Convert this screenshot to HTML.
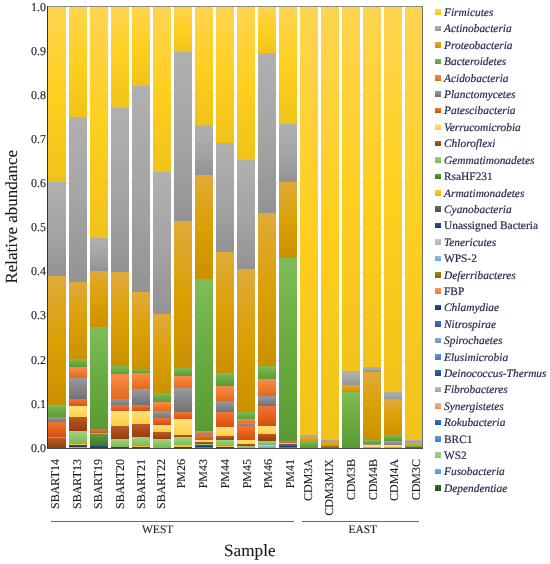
<!DOCTYPE html>
<html><head><meta charset="utf-8"><title>Relative abundance</title>
<style>
html,body{margin:0;padding:0;background:#fff;}
body{width:550px;height:564px;position:relative;overflow:hidden;font-family:"Liberation Serif",serif;color:#1e1e1e;-webkit-font-smoothing:antialiased;text-rendering:geometricPrecision;}
#t{position:absolute;left:0;top:0;width:550px;height:564px;will-change:transform;-webkit-text-stroke:0.12px currentColor;}
.a{position:absolute;}
.s{position:absolute;}
.gl{position:absolute;left:47.8px;width:374.5px;height:1px;background:#ececf0;}
.yl{position:absolute;left:0;width:46px;text-align:right;font-size:12px;line-height:13px;color:#222;}
.xl{position:absolute;writing-mode:vertical-rl;transform:rotate(180deg);font-size:12px;line-height:14px;white-space:nowrap;color:#1e1e1e;}
.lg{position:absolute;left:435.3px;width:5.6px;height:5.6px;}
.lt{position:absolute;left:444px;font-size:11.4px;line-height:14px;white-space:nowrap;color:#232a4c;-webkit-text-stroke:0.2px #232a4c;}
.lt i{font-style:italic;}
</style></head><body>

<div class="gl" style="top:404.03px"></div>
<div class="gl" style="top:359.87px"></div>
<div class="gl" style="top:315.7px"></div>
<div class="gl" style="top:271.53px"></div>
<div class="gl" style="top:227.37px"></div>
<div class="gl" style="top:183.2px"></div>
<div class="gl" style="top:139.03px"></div>
<div class="gl" style="top:94.86px"></div>
<div class="gl" style="top:50.7px"></div>
<div class="s" style="left:47.7px;top:7px;width:18px;height:176px;background:linear-gradient(to bottom,#ffd550 0%,#ffcf20 50%,#f0c31a 100%)"></div>
<div class="s" style="left:47.7px;top:182.4px;width:18px;height:94.5px;background:linear-gradient(to bottom,#b0b0b0 0%,#a5a5a5 50%,#939393 100%)"></div>
<div class="s" style="left:47.7px;top:276.3px;width:18px;height:129.1px;background:linear-gradient(to bottom,#e0aa3a 0%,#dba004 50%,#cb9000 100%)"></div>
<div class="s" style="left:47.7px;top:404.8px;width:18px;height:12.8px;background:linear-gradient(to bottom,#7fbd58 0%,#6aab40 50%,#5a9a34 100%)"></div>
<div class="s" style="left:47.7px;top:417px;width:18px;height:5.7px;background:linear-gradient(to bottom,#9a9a9e 0%,#86868a 50%,#727276 100%)"></div>
<div class="s" style="left:47.7px;top:422.1px;width:18px;height:15.4px;background:linear-gradient(to bottom,#f07636 0%,#e4601c 50%,#d2500e 100%)"></div>
<div class="s" style="left:47.7px;top:436.9px;width:18px;height:1.7px;background:linear-gradient(to bottom,#cf9070 0%,#c4805c 50%,#b87050 100%)"></div>
<div class="s" style="left:47.7px;top:438px;width:18px;height:10px;background:linear-gradient(to bottom,#b85c2c 0%,#a84a14 50%,#963e0c 100%)"></div>
<div class="s" style="left:68.73px;top:7px;width:18px;height:110.6px;background:linear-gradient(to bottom,#ffd550 0%,#ffcf20 50%,#f0c31a 100%)"></div>
<div class="s" style="left:68.73px;top:117px;width:18px;height:165.8px;background:linear-gradient(to bottom,#b0b0b0 0%,#a5a5a5 50%,#939393 100%)"></div>
<div class="s" style="left:68.73px;top:282.2px;width:18px;height:77.5px;background:linear-gradient(to bottom,#e0aa3a 0%,#dba004 50%,#cb9000 100%)"></div>
<div class="s" style="left:68.73px;top:359.1px;width:18px;height:8.1px;background:linear-gradient(to bottom,#7fbd58 0%,#6aab40 50%,#5a9a34 100%)"></div>
<div class="s" style="left:68.73px;top:366.6px;width:18px;height:11.8px;background:linear-gradient(to bottom,#f88c4c 0%,#f27a30 50%,#e26a1e 100%)"></div>
<div class="s" style="left:68.73px;top:377.8px;width:18px;height:21.6px;background:linear-gradient(to bottom,#9a9a9e 0%,#86868a 50%,#727276 100%)"></div>
<div class="s" style="left:68.73px;top:398.8px;width:18px;height:8px;background:linear-gradient(to bottom,#f07636 0%,#e4601c 50%,#d2500e 100%)"></div>
<div class="s" style="left:68.73px;top:406.2px;width:18px;height:11.4px;background:linear-gradient(to bottom,#ffe27e 0%,#ffd95a 50%,#f6cc46 100%)"></div>
<div class="s" style="left:68.73px;top:417px;width:18px;height:14.2px;background:linear-gradient(to bottom,#b85c2c 0%,#a84a14 50%,#963e0c 100%)"></div>
<div class="s" style="left:68.73px;top:430.6px;width:18px;height:13.8px;background:linear-gradient(to bottom,#a0d27e 0%,#8cc66a 50%,#7ab656 100%)"></div>
<div class="s" style="left:68.73px;top:443.8px;width:18px;height:2px;background:linear-gradient(to bottom,#ffca30 0%,#ffbe12 50%,#f0b008 100%)"></div>
<div class="s" style="left:68.73px;top:445.2px;width:18px;height:2.1px;background:linear-gradient(to bottom,#34508e 0%,#24407e 50%,#1c346c 100%)"></div>
<div class="s" style="left:68.73px;top:446.7px;width:18px;height:1.3px;background:linear-gradient(to bottom,#f69a60 0%,#f38b4a 50%,#e87a38 100%)"></div>
<div class="s" style="left:89.76px;top:7px;width:18px;height:231.6px;background:linear-gradient(to bottom,#ffd550 0%,#ffcf20 50%,#f0c31a 100%)"></div>
<div class="s" style="left:89.76px;top:238px;width:18px;height:33.4px;background:linear-gradient(to bottom,#b0b0b0 0%,#a5a5a5 50%,#939393 100%)"></div>
<div class="s" style="left:89.76px;top:270.8px;width:18px;height:56.9px;background:linear-gradient(to bottom,#e0aa3a 0%,#dba004 50%,#cb9000 100%)"></div>
<div class="s" style="left:89.76px;top:327.1px;width:18px;height:102.2px;background:linear-gradient(to bottom,#7fbd58 0%,#6aab40 50%,#5a9a34 100%)"></div>
<div class="s" style="left:89.76px;top:428.7px;width:18px;height:1.8px;background:linear-gradient(to bottom,#9a9a9e 0%,#86868a 50%,#727276 100%)"></div>
<div class="s" style="left:89.76px;top:429.9px;width:18px;height:3.6px;background:linear-gradient(to bottom,#f07636 0%,#e4601c 50%,#d2500e 100%)"></div>
<div class="s" style="left:89.76px;top:432.9px;width:18px;height:1.5px;background:linear-gradient(to bottom,#a0d27e 0%,#8cc66a 50%,#7ab656 100%)"></div>
<div class="s" style="left:89.76px;top:433.8px;width:18px;height:13px;background:linear-gradient(to bottom,#5e9c3c 0%,#4c8a2e 50%,#3e7624 100%)"></div>
<div class="s" style="left:89.76px;top:446.2px;width:18px;height:1.8px;background:linear-gradient(to bottom,#34508e 0%,#24407e 50%,#1c346c 100%)"></div>
<div class="s" style="left:110.79px;top:7px;width:18px;height:101.8px;background:linear-gradient(to bottom,#ffd550 0%,#ffcf20 50%,#f0c31a 100%)"></div>
<div class="s" style="left:110.79px;top:108.2px;width:18px;height:164.7px;background:linear-gradient(to bottom,#b0b0b0 0%,#a5a5a5 50%,#939393 100%)"></div>
<div class="s" style="left:110.79px;top:272.3px;width:18px;height:94.3px;background:linear-gradient(to bottom,#e0aa3a 0%,#dba004 50%,#cb9000 100%)"></div>
<div class="s" style="left:110.79px;top:366px;width:18px;height:9px;background:linear-gradient(to bottom,#7fbd58 0%,#6aab40 50%,#5a9a34 100%)"></div>
<div class="s" style="left:110.79px;top:374.4px;width:18px;height:25px;background:linear-gradient(to bottom,#f88c4c 0%,#f27a30 50%,#e26a1e 100%)"></div>
<div class="s" style="left:110.79px;top:398.8px;width:18px;height:6.8px;background:linear-gradient(to bottom,#9a9a9e 0%,#86868a 50%,#727276 100%)"></div>
<div class="s" style="left:110.79px;top:405px;width:18px;height:6.7px;background:linear-gradient(to bottom,#f07636 0%,#e4601c 50%,#d2500e 100%)"></div>
<div class="s" style="left:110.79px;top:411.1px;width:18px;height:15.8px;background:linear-gradient(to bottom,#ffe27e 0%,#ffd95a 50%,#f6cc46 100%)"></div>
<div class="s" style="left:110.79px;top:426.3px;width:18px;height:13.1px;background:linear-gradient(to bottom,#b85c2c 0%,#a84a14 50%,#963e0c 100%)"></div>
<div class="s" style="left:110.79px;top:438.8px;width:18px;height:8.8px;background:linear-gradient(to bottom,#a0d27e 0%,#8cc66a 50%,#7ab656 100%)"></div>
<div class="s" style="left:110.79px;top:447px;width:18px;height:1px;background:linear-gradient(to bottom,#34508e 0%,#24407e 50%,#1c346c 100%)"></div>
<div class="s" style="left:131.82px;top:7px;width:18px;height:79.2px;background:linear-gradient(to bottom,#ffd550 0%,#ffcf20 50%,#f0c31a 100%)"></div>
<div class="s" style="left:131.82px;top:85.6px;width:18px;height:207.2px;background:linear-gradient(to bottom,#b0b0b0 0%,#a5a5a5 50%,#939393 100%)"></div>
<div class="s" style="left:131.82px;top:292.2px;width:18px;height:78.5px;background:linear-gradient(to bottom,#e0aa3a 0%,#dba004 50%,#cb9000 100%)"></div>
<div class="s" style="left:131.82px;top:370.1px;width:18px;height:3px;background:linear-gradient(to bottom,#7fbd58 0%,#6aab40 50%,#5a9a34 100%)"></div>
<div class="s" style="left:131.82px;top:372.5px;width:18px;height:16.9px;background:linear-gradient(to bottom,#f88c4c 0%,#f27a30 50%,#e26a1e 100%)"></div>
<div class="s" style="left:131.82px;top:388.8px;width:18px;height:16.5px;background:linear-gradient(to bottom,#9a9a9e 0%,#86868a 50%,#727276 100%)"></div>
<div class="s" style="left:131.82px;top:404.7px;width:18px;height:6.7px;background:linear-gradient(to bottom,#f07636 0%,#e4601c 50%,#d2500e 100%)"></div>
<div class="s" style="left:131.82px;top:410.8px;width:18px;height:14px;background:linear-gradient(to bottom,#ffe27e 0%,#ffd95a 50%,#f6cc46 100%)"></div>
<div class="s" style="left:131.82px;top:424.2px;width:18px;height:13.4px;background:linear-gradient(to bottom,#b85c2c 0%,#a84a14 50%,#963e0c 100%)"></div>
<div class="s" style="left:131.82px;top:437px;width:18px;height:9.6px;background:linear-gradient(to bottom,#a0d27e 0%,#8cc66a 50%,#7ab656 100%)"></div>
<div class="s" style="left:131.82px;top:446px;width:18px;height:1.9px;background:linear-gradient(to bottom,#ffca30 0%,#ffbe12 50%,#f0b008 100%)"></div>
<div class="s" style="left:131.82px;top:447.3px;width:18px;height:0.7px;background:linear-gradient(to bottom,#34508e 0%,#24407e 50%,#1c346c 100%)"></div>
<div class="s" style="left:152.85px;top:7px;width:18px;height:165.6px;background:linear-gradient(to bottom,#ffd550 0%,#ffcf20 50%,#f0c31a 100%)"></div>
<div class="s" style="left:152.85px;top:172px;width:18px;height:142.4px;background:linear-gradient(to bottom,#b0b0b0 0%,#a5a5a5 50%,#939393 100%)"></div>
<div class="s" style="left:152.85px;top:313.8px;width:18px;height:79.9px;background:linear-gradient(to bottom,#e0aa3a 0%,#dba004 50%,#cb9000 100%)"></div>
<div class="s" style="left:152.85px;top:393.1px;width:18px;height:9.8px;background:linear-gradient(to bottom,#7fbd58 0%,#6aab40 50%,#5a9a34 100%)"></div>
<div class="s" style="left:152.85px;top:402.3px;width:18px;height:9.1px;background:linear-gradient(to bottom,#f88c4c 0%,#f27a30 50%,#e26a1e 100%)"></div>
<div class="s" style="left:152.85px;top:410.8px;width:18px;height:8.1px;background:linear-gradient(to bottom,#9a9a9e 0%,#86868a 50%,#727276 100%)"></div>
<div class="s" style="left:152.85px;top:418.3px;width:18px;height:7px;background:linear-gradient(to bottom,#f07636 0%,#e4601c 50%,#d2500e 100%)"></div>
<div class="s" style="left:152.85px;top:424.7px;width:18px;height:7.8px;background:linear-gradient(to bottom,#ffe27e 0%,#ffd95a 50%,#f6cc46 100%)"></div>
<div class="s" style="left:152.85px;top:431.9px;width:18px;height:7.8px;background:linear-gradient(to bottom,#b85c2c 0%,#a84a14 50%,#963e0c 100%)"></div>
<div class="s" style="left:152.85px;top:439.1px;width:18px;height:8.9px;background:linear-gradient(to bottom,#a0d27e 0%,#8cc66a 50%,#7ab656 100%)"></div>
<div class="s" style="left:173.88px;top:7px;width:18px;height:46px;background:linear-gradient(to bottom,#ffd550 0%,#ffcf20 50%,#f0c31a 100%)"></div>
<div class="s" style="left:173.88px;top:52.4px;width:18px;height:169.5px;background:linear-gradient(to bottom,#b0b0b0 0%,#a5a5a5 50%,#939393 100%)"></div>
<div class="s" style="left:173.88px;top:221.3px;width:18px;height:147.6px;background:linear-gradient(to bottom,#e0aa3a 0%,#dba004 50%,#cb9000 100%)"></div>
<div class="s" style="left:173.88px;top:368.3px;width:18px;height:8px;background:linear-gradient(to bottom,#7fbd58 0%,#6aab40 50%,#5a9a34 100%)"></div>
<div class="s" style="left:173.88px;top:375.7px;width:18px;height:12.9px;background:linear-gradient(to bottom,#f88c4c 0%,#f27a30 50%,#e26a1e 100%)"></div>
<div class="s" style="left:173.88px;top:388px;width:18px;height:24.5px;background:linear-gradient(to bottom,#9a9a9e 0%,#86868a 50%,#727276 100%)"></div>
<div class="s" style="left:173.88px;top:411.9px;width:18px;height:8.1px;background:linear-gradient(to bottom,#f07636 0%,#e4601c 50%,#d2500e 100%)"></div>
<div class="s" style="left:173.88px;top:419.4px;width:18px;height:16.5px;background:linear-gradient(to bottom,#ffe27e 0%,#ffd95a 50%,#f6cc46 100%)"></div>
<div class="s" style="left:173.88px;top:435.3px;width:18px;height:2.7px;background:linear-gradient(to bottom,#b85c2c 0%,#a84a14 50%,#963e0c 100%)"></div>
<div class="s" style="left:173.88px;top:437.4px;width:18px;height:8.2px;background:linear-gradient(to bottom,#a0d27e 0%,#8cc66a 50%,#7ab656 100%)"></div>
<div class="s" style="left:173.88px;top:445px;width:18px;height:2.6px;background:linear-gradient(to bottom,#ffca30 0%,#ffbe12 50%,#f0b008 100%)"></div>
<div class="s" style="left:173.88px;top:447px;width:18px;height:1px;background:linear-gradient(to bottom,#34508e 0%,#24407e 50%,#1c346c 100%)"></div>
<div class="s" style="left:194.91px;top:7px;width:18px;height:118.1px;background:linear-gradient(to bottom,#ffd550 0%,#ffcf20 50%,#f0c31a 100%)"></div>
<div class="s" style="left:194.91px;top:124.5px;width:18px;height:51.4px;background:linear-gradient(to bottom,#b0b0b0 0%,#a5a5a5 50%,#939393 100%)"></div>
<div class="s" style="left:194.91px;top:175.3px;width:18px;height:103.8px;background:linear-gradient(to bottom,#e0aa3a 0%,#dba004 50%,#cb9000 100%)"></div>
<div class="s" style="left:194.91px;top:278.5px;width:18px;height:153.2px;background:linear-gradient(to bottom,#7fbd58 0%,#6aab40 50%,#5a9a34 100%)"></div>
<div class="s" style="left:194.91px;top:431.1px;width:18px;height:2.5px;background:linear-gradient(to bottom,#f88c4c 0%,#f27a30 50%,#e26a1e 100%)"></div>
<div class="s" style="left:194.91px;top:433px;width:18px;height:2.6px;background:linear-gradient(to bottom,#9a9a9e 0%,#86868a 50%,#727276 100%)"></div>
<div class="s" style="left:194.91px;top:435px;width:18px;height:5.5px;background:linear-gradient(to bottom,#f07636 0%,#e4601c 50%,#d2500e 100%)"></div>
<div class="s" style="left:194.91px;top:439.9px;width:18px;height:2.5px;background:linear-gradient(to bottom,#ffe27e 0%,#ffd95a 50%,#f6cc46 100%)"></div>
<div class="s" style="left:194.91px;top:441.8px;width:18px;height:2.5px;background:linear-gradient(to bottom,#b85c2c 0%,#a84a14 50%,#963e0c 100%)"></div>
<div class="s" style="left:194.91px;top:443.7px;width:18px;height:1.9px;background:linear-gradient(to bottom,#a0d27e 0%,#8cc66a 50%,#7ab656 100%)"></div>
<div class="s" style="left:194.91px;top:445px;width:18px;height:2.5px;background:linear-gradient(to bottom,#34508e 0%,#24407e 50%,#1c346c 100%)"></div>
<div class="s" style="left:194.91px;top:446.9px;width:18px;height:1.1px;background:linear-gradient(to bottom,#b07e1a 0%,#a0700e 50%,#8c6008 100%)"></div>
<div class="s" style="left:215.94px;top:7px;width:18px;height:136.7px;background:linear-gradient(to bottom,#ffd550 0%,#ffcf20 50%,#f0c31a 100%)"></div>
<div class="s" style="left:215.94px;top:143.1px;width:18px;height:109.4px;background:linear-gradient(to bottom,#b0b0b0 0%,#a5a5a5 50%,#939393 100%)"></div>
<div class="s" style="left:215.94px;top:251.9px;width:18px;height:121.5px;background:linear-gradient(to bottom,#e0aa3a 0%,#dba004 50%,#cb9000 100%)"></div>
<div class="s" style="left:215.94px;top:372.8px;width:18px;height:13.4px;background:linear-gradient(to bottom,#7fbd58 0%,#6aab40 50%,#5a9a34 100%)"></div>
<div class="s" style="left:215.94px;top:385.6px;width:18px;height:15.7px;background:linear-gradient(to bottom,#f88c4c 0%,#f27a30 50%,#e26a1e 100%)"></div>
<div class="s" style="left:215.94px;top:400.7px;width:18px;height:12.3px;background:linear-gradient(to bottom,#9a9a9e 0%,#86868a 50%,#727276 100%)"></div>
<div class="s" style="left:215.94px;top:412.4px;width:18px;height:15.3px;background:linear-gradient(to bottom,#f07636 0%,#e4601c 50%,#d2500e 100%)"></div>
<div class="s" style="left:215.94px;top:427.1px;width:18px;height:9.9px;background:linear-gradient(to bottom,#ffe27e 0%,#ffd95a 50%,#f6cc46 100%)"></div>
<div class="s" style="left:215.94px;top:436.4px;width:18px;height:4.4px;background:linear-gradient(to bottom,#b85c2c 0%,#a84a14 50%,#963e0c 100%)"></div>
<div class="s" style="left:215.94px;top:440.2px;width:18px;height:6.4px;background:linear-gradient(to bottom,#a0d27e 0%,#8cc66a 50%,#7ab656 100%)"></div>
<div class="s" style="left:215.94px;top:446px;width:18px;height:1.8px;background:linear-gradient(to bottom,#ffca30 0%,#ffbe12 50%,#f0b008 100%)"></div>
<div class="s" style="left:215.94px;top:447.2px;width:18px;height:0.8px;background:linear-gradient(to bottom,#34508e 0%,#24407e 50%,#1c346c 100%)"></div>
<div class="s" style="left:236.97px;top:7px;width:18px;height:153.4px;background:linear-gradient(to bottom,#ffd550 0%,#ffcf20 50%,#f0c31a 100%)"></div>
<div class="s" style="left:236.97px;top:159.8px;width:18px;height:109.7px;background:linear-gradient(to bottom,#b0b0b0 0%,#a5a5a5 50%,#939393 100%)"></div>
<div class="s" style="left:236.97px;top:268.9px;width:18px;height:143.2px;background:linear-gradient(to bottom,#e0aa3a 0%,#dba004 50%,#cb9000 100%)"></div>
<div class="s" style="left:236.97px;top:411.5px;width:18px;height:8.3px;background:linear-gradient(to bottom,#7fbd58 0%,#6aab40 50%,#5a9a34 100%)"></div>
<div class="s" style="left:236.97px;top:419.2px;width:18px;height:4.4px;background:linear-gradient(to bottom,#f88c4c 0%,#f27a30 50%,#e26a1e 100%)"></div>
<div class="s" style="left:236.97px;top:423px;width:18px;height:3.7px;background:linear-gradient(to bottom,#9a9a9e 0%,#86868a 50%,#727276 100%)"></div>
<div class="s" style="left:236.97px;top:426.1px;width:18px;height:14.5px;background:linear-gradient(to bottom,#f07636 0%,#e4601c 50%,#d2500e 100%)"></div>
<div class="s" style="left:236.97px;top:440px;width:18px;height:4.2px;background:linear-gradient(to bottom,#ffe27e 0%,#ffd95a 50%,#f6cc46 100%)"></div>
<div class="s" style="left:236.97px;top:443.6px;width:18px;height:2.8px;background:linear-gradient(to bottom,#b85c2c 0%,#a84a14 50%,#963e0c 100%)"></div>
<div class="s" style="left:236.97px;top:445.8px;width:18px;height:2.2px;background:linear-gradient(to bottom,#a0d27e 0%,#8cc66a 50%,#7ab656 100%)"></div>
<div class="s" style="left:258px;top:7px;width:18px;height:46.8px;background:linear-gradient(to bottom,#ffd550 0%,#ffcf20 50%,#f0c31a 100%)"></div>
<div class="s" style="left:258px;top:53.2px;width:18px;height:160.4px;background:linear-gradient(to bottom,#b0b0b0 0%,#a5a5a5 50%,#939393 100%)"></div>
<div class="s" style="left:258px;top:213px;width:18px;height:153.9px;background:linear-gradient(to bottom,#e0aa3a 0%,#dba004 50%,#cb9000 100%)"></div>
<div class="s" style="left:258px;top:366.3px;width:18px;height:13.3px;background:linear-gradient(to bottom,#7fbd58 0%,#6aab40 50%,#5a9a34 100%)"></div>
<div class="s" style="left:258px;top:379px;width:18px;height:17.2px;background:linear-gradient(to bottom,#f88c4c 0%,#f27a30 50%,#e26a1e 100%)"></div>
<div class="s" style="left:258px;top:395.6px;width:18px;height:10.8px;background:linear-gradient(to bottom,#9a9a9e 0%,#86868a 50%,#727276 100%)"></div>
<div class="s" style="left:258px;top:405.8px;width:18px;height:20.7px;background:linear-gradient(to bottom,#f07636 0%,#e4601c 50%,#d2500e 100%)"></div>
<div class="s" style="left:258px;top:425.9px;width:18px;height:8.8px;background:linear-gradient(to bottom,#ffe27e 0%,#ffd95a 50%,#f6cc46 100%)"></div>
<div class="s" style="left:258px;top:434.1px;width:18px;height:7px;background:linear-gradient(to bottom,#b85c2c 0%,#a84a14 50%,#963e0c 100%)"></div>
<div class="s" style="left:258px;top:440.5px;width:18px;height:4.9px;background:linear-gradient(to bottom,#a0d27e 0%,#8cc66a 50%,#7ab656 100%)"></div>
<div class="s" style="left:258px;top:444.8px;width:18px;height:2px;background:linear-gradient(to bottom,#ffca30 0%,#ffbe12 50%,#f0b008 100%)"></div>
<div class="s" style="left:258px;top:446.2px;width:18px;height:1.8px;background:linear-gradient(to bottom,#92c0ea 0%,#7eb3e5 50%,#6aa2d8 100%)"></div>
<div class="s" style="left:279.03px;top:7px;width:18px;height:117.8px;background:linear-gradient(to bottom,#ffd550 0%,#ffcf20 50%,#f0c31a 100%)"></div>
<div class="s" style="left:279.03px;top:124.2px;width:18px;height:58.3px;background:linear-gradient(to bottom,#b0b0b0 0%,#a5a5a5 50%,#939393 100%)"></div>
<div class="s" style="left:279.03px;top:181.9px;width:18px;height:76.9px;background:linear-gradient(to bottom,#e0aa3a 0%,#dba004 50%,#cb9000 100%)"></div>
<div class="s" style="left:279.03px;top:258.2px;width:18px;height:183.4px;background:linear-gradient(to bottom,#7fbd58 0%,#6aab40 50%,#5a9a34 100%)"></div>
<div class="s" style="left:279.03px;top:441px;width:18px;height:2.6px;background:linear-gradient(to bottom,#f07636 0%,#e4601c 50%,#d2500e 100%)"></div>
<div class="s" style="left:279.03px;top:443px;width:18px;height:1.6px;background:linear-gradient(to bottom,#ffca30 0%,#ffbe12 50%,#f0b008 100%)"></div>
<div class="s" style="left:279.03px;top:444px;width:18px;height:2.5px;background:linear-gradient(to bottom,#6a6a6a 0%,#5a5a5a 50%,#4c4c4c 100%)"></div>
<div class="s" style="left:279.03px;top:445.9px;width:18px;height:1.6px;background:linear-gradient(to bottom,#34508e 0%,#24407e 50%,#1c346c 100%)"></div>
<div class="s" style="left:279.03px;top:446.9px;width:18px;height:1.1px;background:linear-gradient(to bottom,#b07e1a 0%,#a0700e 50%,#8c6008 100%)"></div>
<div class="s" style="left:300.06px;top:7px;width:18px;height:428.1px;background:linear-gradient(to bottom,#ffd550 0%,#ffcf20 50%,#f0c31a 100%)"></div>
<div class="s" style="left:300.06px;top:434.5px;width:18px;height:3.1px;background:linear-gradient(to bottom,#b0b0b0 0%,#a5a5a5 50%,#939393 100%)"></div>
<div class="s" style="left:300.06px;top:437px;width:18px;height:4.8px;background:linear-gradient(to bottom,#e0aa3a 0%,#dba004 50%,#cb9000 100%)"></div>
<div class="s" style="left:300.06px;top:441.2px;width:18px;height:6.8px;background:linear-gradient(to bottom,#7fbd58 0%,#6aab40 50%,#5a9a34 100%)"></div>
<div class="s" style="left:321.09px;top:7px;width:18px;height:433.3px;background:linear-gradient(to bottom,#ffd550 0%,#ffcf20 50%,#f0c31a 100%)"></div>
<div class="s" style="left:321.09px;top:439.7px;width:18px;height:2.8px;background:linear-gradient(to bottom,#b0b0b0 0%,#a5a5a5 50%,#939393 100%)"></div>
<div class="s" style="left:321.09px;top:441.9px;width:18px;height:4.9px;background:linear-gradient(to bottom,#e0aa3a 0%,#dba004 50%,#cb9000 100%)"></div>
<div class="s" style="left:321.09px;top:446.2px;width:18px;height:1.8px;background:linear-gradient(to bottom,#b07e1a 0%,#a0700e 50%,#8c6008 100%)"></div>
<div class="s" style="left:342.12px;top:7px;width:18px;height:364.9px;background:linear-gradient(to bottom,#ffd550 0%,#ffcf20 50%,#f0c31a 100%)"></div>
<div class="s" style="left:342.12px;top:371.3px;width:18px;height:14.6px;background:linear-gradient(to bottom,#b0b0b0 0%,#a5a5a5 50%,#939393 100%)"></div>
<div class="s" style="left:342.12px;top:385.3px;width:18px;height:7.1px;background:linear-gradient(to bottom,#e0aa3a 0%,#dba004 50%,#cb9000 100%)"></div>
<div class="s" style="left:342.12px;top:391.8px;width:18px;height:55.8px;background:linear-gradient(to bottom,#7fbd58 0%,#6aab40 50%,#5a9a34 100%)"></div>
<div class="s" style="left:342.12px;top:447px;width:18px;height:1px;background:linear-gradient(to bottom,#a47090 0%,#9a6688 50%,#905c80 100%)"></div>
<div class="s" style="left:363.15px;top:7px;width:18px;height:360.8px;background:linear-gradient(to bottom,#ffd550 0%,#ffcf20 50%,#f0c31a 100%)"></div>
<div class="s" style="left:363.15px;top:367.2px;width:18px;height:5.2px;background:linear-gradient(to bottom,#b0b0b0 0%,#a5a5a5 50%,#939393 100%)"></div>
<div class="s" style="left:363.15px;top:371.8px;width:18px;height:68.7px;background:linear-gradient(to bottom,#e0aa3a 0%,#dba004 50%,#cb9000 100%)"></div>
<div class="s" style="left:363.15px;top:439.9px;width:18px;height:3.7px;background:linear-gradient(to bottom,#7fbd58 0%,#6aab40 50%,#5a9a34 100%)"></div>
<div class="s" style="left:363.15px;top:443px;width:18px;height:1.2px;background:linear-gradient(to bottom,#f07636 0%,#e4601c 50%,#d2500e 100%)"></div>
<div class="s" style="left:363.15px;top:443.6px;width:18px;height:2.1px;background:linear-gradient(to bottom,#9a9a9e 0%,#86868a 50%,#727276 100%)"></div>
<div class="s" style="left:363.15px;top:445.1px;width:18px;height:2.5px;background:linear-gradient(to bottom,#ffe27e 0%,#ffd95a 50%,#f6cc46 100%)"></div>
<div class="s" style="left:363.15px;top:447px;width:18px;height:1px;background:linear-gradient(to bottom,#a0d27e 0%,#8cc66a 50%,#7ab656 100%)"></div>
<div class="s" style="left:384.18px;top:7px;width:18px;height:385.2px;background:linear-gradient(to bottom,#ffd550 0%,#ffcf20 50%,#f0c31a 100%)"></div>
<div class="s" style="left:384.18px;top:391.6px;width:18px;height:8.4px;background:linear-gradient(to bottom,#b0b0b0 0%,#a5a5a5 50%,#939393 100%)"></div>
<div class="s" style="left:384.18px;top:399.4px;width:18px;height:36.5px;background:linear-gradient(to bottom,#e0aa3a 0%,#dba004 50%,#cb9000 100%)"></div>
<div class="s" style="left:384.18px;top:435.3px;width:18px;height:6.1px;background:linear-gradient(to bottom,#7fbd58 0%,#6aab40 50%,#5a9a34 100%)"></div>
<div class="s" style="left:384.18px;top:440.8px;width:18px;height:1.8px;background:linear-gradient(to bottom,#f88c4c 0%,#f27a30 50%,#e26a1e 100%)"></div>
<div class="s" style="left:384.18px;top:442px;width:18px;height:3.5px;background:linear-gradient(to bottom,#9a9a9e 0%,#86868a 50%,#727276 100%)"></div>
<div class="s" style="left:384.18px;top:444.9px;width:18px;height:2.7px;background:linear-gradient(to bottom,#ffe27e 0%,#ffd95a 50%,#f6cc46 100%)"></div>
<div class="s" style="left:384.18px;top:447px;width:18px;height:1px;background:linear-gradient(to bottom,#a0d27e 0%,#8cc66a 50%,#7ab656 100%)"></div>
<div class="s" style="left:405.21px;top:7px;width:17.09px;height:433.5px;background:linear-gradient(to bottom,#ffd550 0%,#ffcf20 50%,#f0c31a 100%)"></div>
<div class="s" style="left:405.21px;top:439.9px;width:17.09px;height:3.8px;background:linear-gradient(to bottom,#b0b0b0 0%,#a5a5a5 50%,#939393 100%)"></div>
<div class="s" style="left:405.21px;top:443.1px;width:17.09px;height:3.8px;background:linear-gradient(to bottom,#e0aa3a 0%,#dba004 50%,#cb9000 100%)"></div>
<div class="s" style="left:405.21px;top:446.3px;width:17.09px;height:1.6px;background:linear-gradient(to bottom,#7fbd58 0%,#6aab40 50%,#5a9a34 100%)"></div>
<div class="s" style="left:405.21px;top:447.3px;width:17.09px;height:0.7px;background:linear-gradient(to bottom,#b85c2c 0%,#a84a14 50%,#963e0c 100%)"></div>
<div class="a" style="left:47px;top:6px;width:376px;height:1px;background:#888"></div>
<div class="a" style="left:422px;top:6px;width:1px;height:443px;background:#6e6e6e"></div>
<div class="a" style="left:47px;top:6px;width:1px;height:443px;background:#333"></div>
<div class="a" style="left:47px;top:448px;width:376px;height:1px;background:#4a4a4a"></div>
<div id="t">
<div class="yl" style="top:441.83px">0.0</div>
<div class="yl" style="top:397.71px">0.1</div>
<div class="yl" style="top:353.59px">0.2</div>
<div class="yl" style="top:309.48px">0.3</div>
<div class="yl" style="top:265.36px">0.4</div>
<div class="yl" style="top:221.24px">0.5</div>
<div class="yl" style="top:177.12px">0.6</div>
<div class="yl" style="top:133px">0.7</div>
<div class="yl" style="top:88.89px">0.8</div>
<div class="yl" style="top:44.77px">0.9</div>
<div class="yl" style="top:0.65px">1.0</div>
<div class="a" style="left:2.5px;top:149.7px;writing-mode:vertical-rl;transform:rotate(180deg);font-size:17px;line-height:18px;white-space:nowrap;color:#1a1a1a">Relative abundance</div>
<div class="xl" style="left:48.15px;top:459px">SBART14</div>
<div class="xl" style="left:69.83px;top:459px">SBART13</div>
<div class="xl" style="left:91.26px;top:459px">SBART19</div>
<div class="xl" style="left:113.29px;top:459px">SBART20</div>
<div class="xl" style="left:133.62px;top:459px">SBART21</div>
<div class="xl" style="left:154.45px;top:459px">SBART22</div>
<div class="xl" style="left:174.48px;top:459px">PM26</div>
<div class="xl" style="left:195.91px;top:459px">PM43</div>
<div class="xl" style="left:217.74px;top:459px">PM44</div>
<div class="xl" style="left:239.67px;top:459px">PM45</div>
<div class="xl" style="left:260.95px;top:459px">PM46</div>
<div class="xl" style="left:283.13px;top:459px">PM41</div>
<div class="xl" style="left:300.56px;top:459px">CDM3A</div>
<div class="xl" style="left:322.09px;top:459px">CDM3MIX</div>
<div class="xl" style="left:343.67px;top:459px">CDM3B</div>
<div class="xl" style="left:366.35px;top:459px">CDM4B</div>
<div class="xl" style="left:387.33px;top:459px">CDM4A</div>
<div class="xl" style="left:409.21px;top:459px">CDM3C</div>
<div class="a" style="left:51px;top:521px;width:243px;height:1px;background:#6a6a6a"></div>
<div class="a" style="left:301.5px;top:521px;width:117.6px;height:1px;background:#6a6a6a"></div>
<div class="a" style="left:142px;top:523px;font-size:11.5px;line-height:14px;color:#1e1e1e">WEST</div>
<div class="a" style="left:348.4px;top:523px;font-size:11.5px;line-height:14px;color:#1e1e1e">EAST</div>
<div class="a" style="left:224px;top:541px;font-size:17.2px;line-height:20px;color:#1a1a1a">Sample</div>
<div class="lg" style="top:9.4px;background:linear-gradient(to bottom,#ffd550 0%,#ffcf20 50%,#f0c31a 100%)"></div>
<div class="lt" style="top:6px"><i>Firmicutes</i></div>
<div class="lg" style="top:25.81px;background:linear-gradient(to bottom,#b0b0b0 0%,#a5a5a5 50%,#939393 100%)"></div>
<div class="lt" style="top:22.41px"><i>Actinobacteria</i></div>
<div class="lg" style="top:42.22px;background:linear-gradient(to bottom,#e0aa3a 0%,#dba004 50%,#cb9000 100%)"></div>
<div class="lt" style="top:38.82px"><i>Proteobacteria</i></div>
<div class="lg" style="top:58.63px;background:linear-gradient(to bottom,#7fbd58 0%,#6aab40 50%,#5a9a34 100%)"></div>
<div class="lt" style="top:55.23px"><i>Bacteroidetes</i></div>
<div class="lg" style="top:75.04px;background:linear-gradient(to bottom,#f88c4c 0%,#f27a30 50%,#e26a1e 100%)"></div>
<div class="lt" style="top:71.64px"><i>Acidobacteria</i></div>
<div class="lg" style="top:91.45px;background:linear-gradient(to bottom,#9a9a9e 0%,#86868a 50%,#727276 100%)"></div>
<div class="lt" style="top:88.05px"><i>Planctomycetes</i></div>
<div class="lg" style="top:107.86px;background:linear-gradient(to bottom,#f07636 0%,#e4601c 50%,#d2500e 100%)"></div>
<div class="lt" style="top:104.46px"><i>Patescibacteria</i></div>
<div class="lg" style="top:124.27px;background:linear-gradient(to bottom,#ffe27e 0%,#ffd95a 50%,#f6cc46 100%)"></div>
<div class="lt" style="top:120.87px"><i>Verrucomicrobia</i></div>
<div class="lg" style="top:140.68px;background:linear-gradient(to bottom,#b85c2c 0%,#a84a14 50%,#963e0c 100%)"></div>
<div class="lt" style="top:137.28px"><i>Chloroflexi</i></div>
<div class="lg" style="top:157.09px;background:linear-gradient(to bottom,#a0d27e 0%,#8cc66a 50%,#7ab656 100%)"></div>
<div class="lt" style="top:153.69px"><i>Gemmatimonadetes</i></div>
<div class="lg" style="top:173.5px;background:linear-gradient(to bottom,#5e9c3c 0%,#4c8a2e 50%,#3e7624 100%)"></div>
<div class="lt" style="top:170.1px">RsaHF231</div>
<div class="lg" style="top:189.91px;background:linear-gradient(to bottom,#ffca30 0%,#ffbe12 50%,#f0b008 100%)"></div>
<div class="lt" style="top:186.51px"><i>Armatimonadetes</i></div>
<div class="lg" style="top:206.32px;background:linear-gradient(to bottom,#6a6a6a 0%,#5a5a5a 50%,#4c4c4c 100%)"></div>
<div class="lt" style="top:202.92px"><i>Cyanobacteria</i></div>
<div class="lg" style="top:222.73px;background:linear-gradient(to bottom,#34508e 0%,#24407e 50%,#1c346c 100%)"></div>
<div class="lt" style="top:219.33px">Unassigned Bacteria</div>
<div class="lg" style="top:239.14px;background:linear-gradient(to bottom,#c8c8c8 0%,#bdbdbd 50%,#b0b0b0 100%)"></div>
<div class="lt" style="top:235.74px"><i>Tenericutes</i></div>
<div class="lg" style="top:255.55px;background:linear-gradient(to bottom,#92c0ea 0%,#7eb3e5 50%,#6aa2d8 100%)"></div>
<div class="lt" style="top:252.15px">WPS-2</div>
<div class="lg" style="top:271.96px;background:linear-gradient(to bottom,#b07e1a 0%,#a0700e 50%,#8c6008 100%)"></div>
<div class="lt" style="top:268.56px"><i>Deferribacteres</i></div>
<div class="lg" style="top:288.37px;background:linear-gradient(to bottom,#f69a60 0%,#f38b4a 50%,#e87a38 100%)"></div>
<div class="lt" style="top:284.97px">FBP</div>
<div class="lg" style="top:304.78px;background:linear-gradient(to bottom,#34508a 0%,#253d7a 50%,#1c326a 100%)"></div>
<div class="lt" style="top:301.38px"><i>Chlamydiae</i></div>
<div class="lg" style="top:321.19px;background:linear-gradient(to bottom,#4c72c2 0%,#3a62b5 50%,#2e54a4 100%)"></div>
<div class="lt" style="top:317.79px"><i>Nitrospirae</i></div>
<div class="lg" style="top:337.6px;background:linear-gradient(to bottom,#90acde 0%,#7e9ed8 50%,#6c8ecc 100%)"></div>
<div class="lt" style="top:334.2px"><i>Spirochaetes</i></div>
<div class="lg" style="top:354.01px;background:linear-gradient(to bottom,#6c92da 0%,#5a82d2 50%,#4a72c4 100%)"></div>
<div class="lt" style="top:350.61px"><i>Elusimicrobia</i></div>
<div class="lg" style="top:370.42px;background:linear-gradient(to bottom,#326aae 0%,#275a9e 50%,#1e4c8c 100%)"></div>
<div class="lt" style="top:367.02px"><i>Deinococcus-Thermus</i></div>
<div class="lg" style="top:386.83px;background:linear-gradient(to bottom,#bcbcbc 0%,#b0b0b0 50%,#a2a2a2 100%)"></div>
<div class="lt" style="top:383.43px"><i>Fibrobacteres</i></div>
<div class="lg" style="top:403.24px;background:linear-gradient(to bottom,#f7b084 0%,#f4a271 50%,#ea925e 100%)"></div>
<div class="lt" style="top:399.84px"><i>Synergistetes</i></div>
<div class="lg" style="top:419.65px;background:linear-gradient(to bottom,#3474c8 0%,#2366be 50%,#1c58aa 100%)"></div>
<div class="lt" style="top:416.25px"><i>Rokubacteria</i></div>
<div class="lg" style="top:436.06px;background:linear-gradient(to bottom,#5c9ce0 0%,#4a8fdb 50%,#3a7ecc 100%)"></div>
<div class="lt" style="top:432.66px">BRC1</div>
<div class="lg" style="top:452.47px;background:linear-gradient(to bottom,#a8d28a 0%,#9bcb7a 50%,#88bc66 100%)"></div>
<div class="lt" style="top:449.07px">WS2</div>
<div class="lg" style="top:468.88px;background:linear-gradient(to bottom,#6cb0ea 0%,#5ba3e6 50%,#4a92d8 100%)"></div>
<div class="lt" style="top:465.48px"><i>Fusobacteria</i></div>
<div class="lg" style="top:485.29px;background:linear-gradient(to bottom,#3a6e28 0%,#2f5e1e 50%,#244e16 100%)"></div>
<div class="lt" style="top:481.89px"><i>Dependentiae</i></div>
</div>
</body></html>
